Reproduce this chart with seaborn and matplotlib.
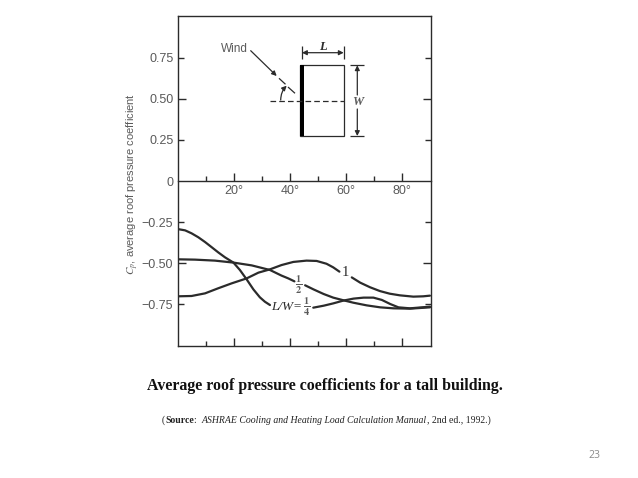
import matplotlib
matplotlib.use('Agg')
import matplotlib.pyplot as plt
import pandas as pd
import seaborn as sns

# curves, split where the inline label interrupts them
quarter_a_x = [0, 2.7, 5, 7.4, 9.8, 12.2, 14.5, 16.9, 19.9, 22.2, 24.6, 27, 29.3, 31.1, 32.9]
quarter_a_y = [-0.292, -0.30, -0.318, -0.342, -0.371, -0.403, -0.434, -0.464, -0.496, -0.541, -0.598, -0.659,
               -0.707, -0.734, -0.754]
quarter_b_x = [48.3, 52, 55.4, 59, 62.6, 66.2, 69.7, 72.7, 75.7, 78.6, 82.7, 89.8]
quarter_b_y = [-0.77, -0.758, -0.744, -0.727, -0.715, -0.709, -0.709, -0.723, -0.748, -0.768, -0.774, -0.764]
half_a_x = [0, 6.2, 13.3, 19.9, 26.4, 32.9, 37, 39.4, 41.6]
half_a_y = [-0.476, -0.478, -0.484, -0.496, -0.513, -0.541, -0.575, -0.592, -0.61]
half_b_x = [45.4, 48.4, 52, 55.4, 59, 62.6, 67.3, 72.1, 76.8, 82.7, 89.8]
half_b_y = [-0.634, -0.659, -0.687, -0.709, -0.725, -0.74, -0.756, -0.768, -0.774, -0.776, -0.768]
one_a_x = [0, 5, 9.8, 14.5, 19.3, 24.6, 28.8, 32.9, 37, 41.2, 45.9, 49.5, 53, 55.4, 57.6]
one_a_y = [-0.701, -0.699, -0.683, -0.652, -0.622, -0.592, -0.557, -0.537, -0.511, -0.492, -0.484, -0.486,
           -0.503, -0.525, -0.551]
one_b_x = [62, 65, 68.5, 72, 75.5, 79.1, 83.9, 87.4, 89.8]
one_b_y = [-0.586, -0.618, -0.646, -0.669, -0.685, -0.695, -0.703, -0.701, -0.697]

x_major = [20, 40, 60, 80]
x_minor = [10, 30, 50, 70]
y_ticks = [-0.75, -0.5, -0.25, 0, 0.25, 0.5, 0.75]
y_labels = ['\u22120.75', '\u22120.50', '\u22120.25', '0', '0.25', '0.50', '0.75']

INK = '#2b2b2b'
GREY = '#5a5a5a'

sns.set_theme(style='white', rc={'axes.edgecolor': INK, 'axes.linewidth': 1.0})
plt.rcParams['font.family'] = ['Liberation Sans', 'DejaVu Sans']
plt.rcParams['mathtext.fontset'] = 'stix'

segments = [
    ('q_a', quarter_a_x, quarter_a_y), ('q_b', quarter_b_x, quarter_b_y),
    ('h_a', half_a_x, half_a_y), ('h_b', half_b_x, half_b_y),
    ('o_a', one_a_x, one_a_y), ('o_b', one_b_x, one_b_y),
]
df = pd.concat([pd.DataFrame({'angle': xs, 'cp': ys, 'seg': name}) for name, xs, ys in segments])

fig = plt.figure(figsize=(6.38, 4.78), dpi=100)
W, H = 638, 478
left, right, top, bottom = 177.5, 430.5, 16, 346
ax = fig.add_axes([left / W, 1 - bottom / H, (right - left) / W, (bottom - top) / H])

sns.lineplot(data=df, x='angle', y='cp', units='seg', estimator=None, color=INK,
             linewidth=1.6, legend=False, ax=ax)
ax.set_xlim(0, 90)
ax.set_ylim(-1.003, 1.003)
ax.set_xlabel('')
ax.set_ylabel('')

ax.set_xticks(x_major)
ax.set_xticks(x_minor, minor=True)
ax.tick_params(axis='x', which='major', direction='in', length=5.5, width=1, color=INK,
               top=False, bottom=True, labelbottom=False)
ax.tick_params(axis='x', which='minor', direction='in', length=3.5, width=1, color=INK,
               top=False, bottom=True)
ax.set_yticks(y_ticks, y_labels)
ax.tick_params(axis='y', direction='in', length=4, width=1, color=INK, left=True, right=True,
               pad=3, labelsize=9, labelcolor=GREY)
for tick, val in zip(ax.yaxis.get_major_ticks(), y_ticks):
    if abs(val) == 0.5:
        tick.tick1line.set_markersize(6)
        tick.tick2line.set_markersize(6)
    if val == 0:
        tick.tick1line.set_visible(False)
        tick.tick2line.set_visible(False)

# the zero line carries its own ticks and the degree labels
sec = ax.secondary_xaxis(0.5)
sec.set_alignment('bottom')
sec.set_xticks(x_major, [f'{v}\u00b0' for v in x_major])
sec.set_xticks(x_minor, minor=True)
sec.tick_params(axis='x', which='major', direction='in', length=5.5, width=1, color=INK,
                pad=3, labelsize=9, labelcolor=GREY)
sec.tick_params(axis='x', which='minor', direction='in', length=3.5, width=1, color=INK)

# overlay in pixel coordinates for the sketch and the slide text
ov = fig.add_axes([0, 0, 1, 1])
ov.set_xlim(0, W)
ov.set_ylim(H, 0)
ov.set_axis_off()
ov.patch.set_alpha(0)


def seg(x0, y0, x1, y1, lw=0.9, **kw):
    ov.plot([x0, x1], [y0, y1], color=INK, lw=lw, solid_capstyle='butt', **kw)


def arrow(x0, y0, x1, y1, style='-|>', rad=0):
    ov.annotate('', xy=(x1, y1), xytext=(x0, y0),
                arrowprops=dict(arrowstyle=style, color=INK, lw=0.9, shrinkA=0, shrinkB=0,
                                mutation_scale=7, connectionstyle=f'arc3,rad={rad}'))


ov.add_patch(plt.Rectangle((300, 65.3), 43.7, 70.7, fill=False, ec=INK, lw=0.9))
ov.add_patch(plt.Rectangle((300, 65.3), 4.3, 70.7, fc='black', ec='none'))
ov.plot([270, 343.7], [100.7, 100.7], color=INK, lw=0.9, dashes=(4.5, 2.5))
arrow(250.7, 50.7, 276.7, 76)
seg(279, 78.3, 285.5, 84.3)
seg(288, 87, 295, 93.3)
arrow(280.7, 100, 286.7, 85.7, rad=-0.2)
seg(302, 46, 302, 59.3)
seg(343.7, 46, 343.7, 59.3)
arrow(302, 52.7, 343.7, 52.7, style='<|-|>')
seg(350, 65.3, 364.3, 65.3)
seg(350, 136, 364.3, 136)
arrow(357.3, 95, 357.3, 65.3)
arrow(357.3, 109, 357.3, 136)

SERIF = ['Liberation Serif', 'DejaVu Serif']
ov.text(234.5, 49, 'Wind', ha='center', va='center', fontsize=8.5, color=GREY)
ov.text(323, 46.5, 'L', ha='center', va='center', fontsize=9, family=SERIF, style='italic', weight='bold', color=INK)
ov.text(357.3, 102, 'W', ha='center', va='center', fontsize=9, family=SERIF, style='italic', weight='bold', color=GREY)

ov.text(345.3, 272.7, '1', ha='center', va='center', fontsize=10.5, family=SERIF, color=INK)
ov.text(299, 285, r'$\mathbf{\frac{1}{2}}$', ha='center', va='center', fontsize=10.5, color=GREY)
ov.text(271.5, 306.5, 'L/W=', ha='left', va='center', fontsize=9.5, family=SERIF, style='italic', color=INK)
ov.text(307, 306.5, r'$\mathbf{\frac{1}{4}}$', ha='center', va='center', fontsize=10.5, color=GREY)

ov.text(132.5, 183.5, r'$C_p$, average roof pressure coefficient', rotation=90, ha='center', va='center',
        fontsize=8, color=GREY)

ov.text(146.7, 385.7, 'Average roof pressure coefficients for a tall building.', ha='left', va='center',
        fontsize=11.4, family=SERIF, weight='bold', color='#111111')
src = ov.text(162, 420, r'(', ha='left', va='center', fontsize=7, family=SERIF, color='#222222')
parts = [('Source', dict(weight='bold')), (':  ', {}),
         ('ASHRAE Cooling and Heating Load Calculation Manual', dict(style='italic')), (', 2nd ed., 1992.)', {})]
for txt, kw in parts:
    src = ov.annotate(txt, xy=(1, 0), xycoords=src, va='bottom', ha='left', fontsize=7, family=SERIF,
                      color='#222222', **kw)
ov.text(594, 456, '23', ha='center', va='center', fontsize=7.5, family=['Open Sans', 'DejaVu Sans'], color='#8a8a8a')

fig.savefig('out.png', dpi=100)
